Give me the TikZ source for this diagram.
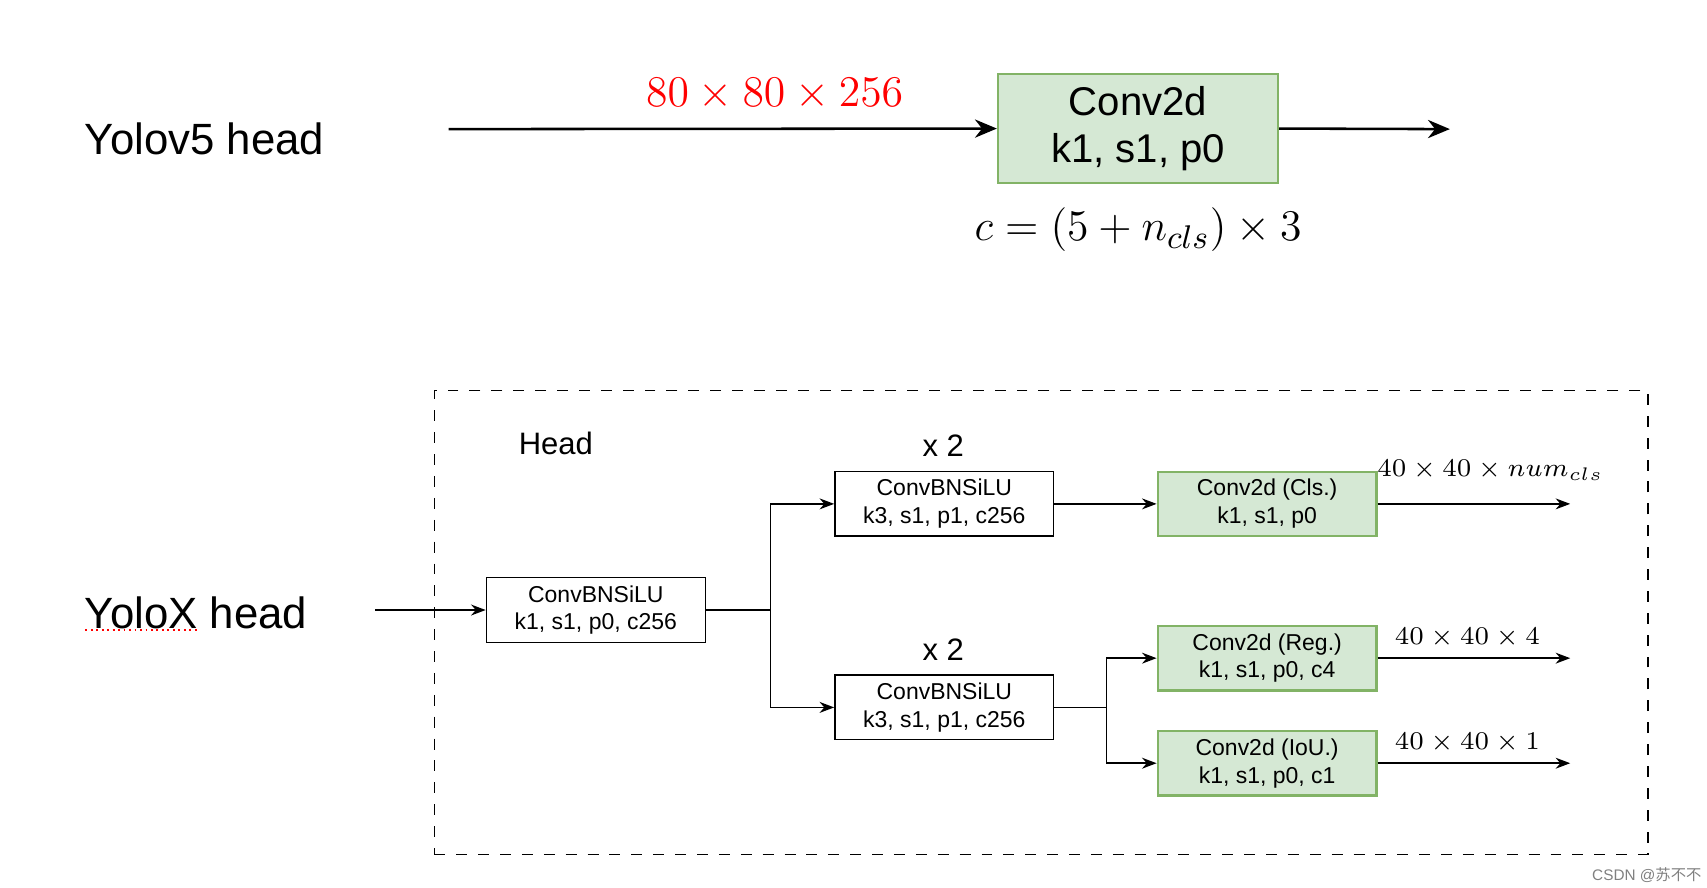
\documentclass[tikz,border=0pt]{standalone}
\usepackage{fontspec}
\setmainfont{Liberation Sans}
\newfontfamily\cjk{Noto Sans CJK SC}
\usetikzlibrary{arrows.meta}
\definecolor{gfill}{HTML}{D5E8D4}
\definecolor{gline}{HTML}{82B366}
\begin{document}
\begin{tikzpicture}[x=0.3pt,y=-0.3pt,
  box/.style={draw,thick,minimum width=60pt,minimum height=17.7pt,align=center,font=\fontsize{6.3}{7.6}\selectfont,inner sep=0pt,line width=0.4pt},
  gbox/.style={box,fill=gfill,draw=gline,line width=0.6pt},
  arr/.style={-{Stealth[length=4pt,width=3pt]},line width=0.4pt},
  lab/.style={font=\fontsize{7.1}{9}\selectfont}]
\useasboundingbox (0,0) rectangle (1560,811);
% top
\node[anchor=west,inner sep=0pt,font=\fontsize{12}{14}\selectfont] (t1) at (77,127) {Yolov5 head};
\node[gbox,minimum width=76.8pt,minimum height=29.7pt,font=\fontsize{11}{13}\selectfont] (c0) at (1040,117.5) {Conv2d\\k1, s1, p0};
\coordinate (a0) at (410,118);
\coordinate (a1) at (1325,118);
\draw[arr,line width=0.7pt,-{Stealth[length=6pt,width=5pt]}] (a0) -- (c0.west);
\draw[arr,line width=0.7pt,-{Stealth[length=6pt,width=5pt]}] (c0.east) -- (a1);
\node[text=red,font=\fontsize{12.5}{15}\selectfont] (l0) at (708,86) {$80\times80\times256$};
\node[font=\fontsize{12.5}{15}\selectfont] (l1) at (1040,210) {$c=(5+n_{cls})\times3$};
% bottom
\node[anchor=west,inner sep=0pt,font=\fontsize{12}{14}\selectfont] (t2) at (77,560) {YoloX head};
\draw[red,densely dotted,line width=0.5pt] (78,576) -- (182,576);
\node[draw,dashed,line width=0.4pt,minimum width=332.7pt,minimum height=127.2pt,inner sep=0pt] (frame) at (951.5,569) {};
\node[font=\fontsize{8.5}{10}\selectfont] (hd) at (508,405) {Head};
\node[box] (b1) at (544.5,557.5) {ConvBNSiLU\\k1, s1, p0, c256};
\node[box] (b2) at (863,460.5) {ConvBNSiLU\\k3, s1, p1, c256};
\node[box] (b3) at (863,646.5) {ConvBNSiLU\\k3, s1, p1, c256};
\node[font=\fontsize{8.5}{10}\selectfont] (x1) at (862,407) {x 2};
\node[font=\fontsize{8.5}{10}\selectfont] (x2) at (862,594) {x 2};
\node[gbox] (cls) at (1158,460.5) {Conv2d (Cls.)\\k1, s1, p0};
\node[gbox] (reg) at (1158,601.5) {Conv2d (Reg.)\\k1, s1, p0, c4};
\node[gbox] (iou) at (1158,697.5) {Conv2d (IoU.)\\k1, s1, p0, c1};
\coordinate (in) at (343,557.5);
\draw[arr] (in) -- (b1.west);
\draw[arr] (b1.east) -- (704,557.5) |- (b2.west);
\draw[arr] (704,557.5) |- (b3.west);
\draw[arr] (b2.east) -- (cls.west);
\draw[arr] (b3.east) -- (1011,646.5) |- (reg.west);
\draw[arr] (1011,646.5) |- (iou.west);
\coordinate (o1) at (1435,460.5);
\coordinate (o2) at (1435,601.5);
\coordinate (o3) at (1435,697.5);
\draw[arr] (cls.east) -- (o1);
\draw[arr] (reg.east) -- (o2);
\draw[arr] (iou.east) -- (o3);
\node[lab] (m1) at (1362,430) {$40\times40\times num_{cls}$};
\node[lab] (m2) at (1341,583) {$40\times40\times4$};
\node[lab] (m3) at (1341,679) {$40\times40\times1$};
\node[text=gray,font=\fontsize{4.2}{5}\selectfont] (wm) at (1505,800) {CSDN @{\cjk 苏不不}};
\end{tikzpicture}
\end{document}
